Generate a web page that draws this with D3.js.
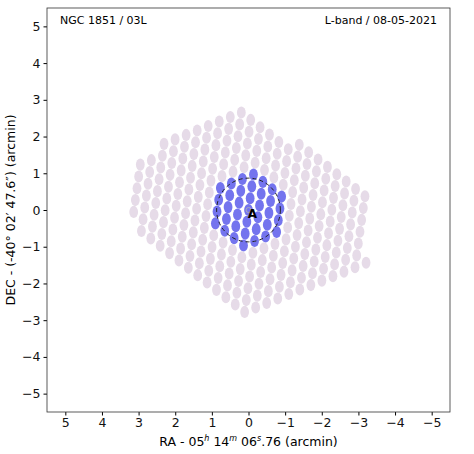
<!DOCTYPE html>
<html><head><meta charset="utf-8">
<script src="https://cdn.jsdelivr.net/npm/d3@7"></script>
<style>body{margin:0;background:#fff}text{font-family:"DejaVu Sans",sans-serif}</style>
</head><body><div id="chart"></div>
<script>
const TITLE_LEFT = "NGC 1851 / 03L";
const TITLE_RIGHT = "L-band / 08-05-2021";
const ticks = [5, 4, 3, 2, 1, 0, -1, -2, -3, -4, -5];
// tiling (arcmin)
const beamSpacing = 0.325;
const latticeAngle = -22;               // degrees
const beamRadii = [0.12, 0.165];        // rx, ry
// outer footprint boundary (RA, DEC offsets)
const footprint = [[0.35, 2.85], [3.0, 1.45], [3.2, -0.7], [0.3, -2.9], [-3.25, -1.5], [-3.2, 0.75]];
const tiedRadius = 1.08;
const ringRadius = 0.87;
const TARGET = { x: 0, y: 0, label: "A" };

const W = 474, H = 454, M = { left: 47, top: 8, right: 24, bottom: 42 };
const x = d3.scaleLinear().domain([5.5, -5.5]).range([M.left, W - M.right]);
const y = d3.scaleLinear().domain([-5.5, 5.5]).range([H - M.bottom, M.top]);
const k = x(0) - x(1);

const svg = d3.select("#chart").append("svg").attr("width", W).attr("height", H);

// build lattice, keep points inside footprint
const a = latticeAngle * Math.PI / 180;
const beams = [];
for (let i = -14; i <= 14; i++) for (let j = -14; j <= 14; j++) {
    const px = beamSpacing * (i * Math.cos(a) + j * Math.cos(a + Math.PI / 3));
    const py = beamSpacing * (i * Math.sin(a) + j * Math.sin(a + Math.PI / 3));
    if (d3.polygonContains(footprint, [px, py])) beams.push({ x: px, y: py, tied: Math.hypot(px, py) < tiedRadius });
}

svg.append("g").selectAll("ellipse").data(beams).join("ellipse")
    .attr("cx", d => x(d.x)).attr("cy", d => y(d.y))
    .attr("rx", beamRadii[0] * k).attr("ry", beamRadii[1] * k)
    .attr("fill", d => d.tied ? "#7474ee" : "#e6dbe8");

svg.append("circle").attr("cx", x(TARGET.x)).attr("cy", y(TARGET.y)).attr("r", ringRadius * k)
    .attr("fill", "none").attr("stroke", "#222").attr("stroke-dasharray", "4,3").attr("stroke-width", 1);
svg.append("circle").attr("cx", x(TARGET.x)).attr("cy", y(TARGET.y)).attr("r", 2.5)
    .attr("fill", "none").attr("stroke", "#aab").attr("stroke-width", 1);
svg.append("text").attr("x", x(TARGET.x) + 4).attr("y", y(TARGET.y) + 8).attr("text-anchor", "middle")
    .attr("font-size", 12).attr("font-weight", "bold").text(TARGET.label);

const xAxis = svg.append("g").attr("transform", `translate(0,${H - M.bottom})`)
    .call(d3.axisBottom(x).tickValues(ticks).tickFormat(d => d < 0 ? "\u2212" + (-d) : d).tickSize(3.5).tickPadding(3));
const yAxis = svg.append("g").attr("transform", `translate(${M.left},0)`)
    .call(d3.axisLeft(y).tickValues(ticks).tickFormat(d => d < 0 ? "\u2212" + (-d) : d).tickSize(3.5).tickPadding(3));
[xAxis, yAxis].forEach(g => { g.select(".domain").remove(); g.selectAll("text").attr("font-size", 12.5).attr("fill", "#111"); });

svg.append("rect").attr("x", M.left).attr("y", M.top).attr("width", W - M.left - M.right).attr("height", H - M.top - M.bottom)
    .attr("fill", "none").attr("stroke", "#333").attr("stroke-width", 0.8);

svg.append("text").attr("x", M.left + 13).attr("y", M.top + 16).attr("font-size", 11).text(TITLE_LEFT);
svg.append("text").attr("x", W - M.right - 13).attr("y", M.top + 16).attr("font-size", 11).attr("text-anchor", "end").text(TITLE_RIGHT);

const xl = svg.append("text").attr("x", (M.left + W - M.right) / 2).attr("y", H - 8).attr("text-anchor", "middle").attr("font-size", 12.5);
xl.append("tspan").text("RA - 05");
xl.append("tspan").attr("font-style", "italic").attr("font-size", 8).attr("dy", -5).text("h");
xl.append("tspan").attr("dy", 5).text(" 14");
xl.append("tspan").attr("font-style", "italic").attr("font-size", 8).attr("dy", -5).text("m");
xl.append("tspan").attr("dy", 5).text(" 06");
xl.append("tspan").attr("font-style", "italic").attr("font-size", 8).attr("dy", -5).text("s");
xl.append("tspan").attr("dy", 5).text(".76 (arcmin)");

svg.append("text").attr("transform", `translate(15,${(M.top + H - M.bottom) / 2}) rotate(-90)`)
    .attr("text-anchor", "middle").attr("font-size", 12.5).text("DEC - (-40\u00b0 02\u2032 47.6\u2033) (arcmin)");
</script></body></html>
